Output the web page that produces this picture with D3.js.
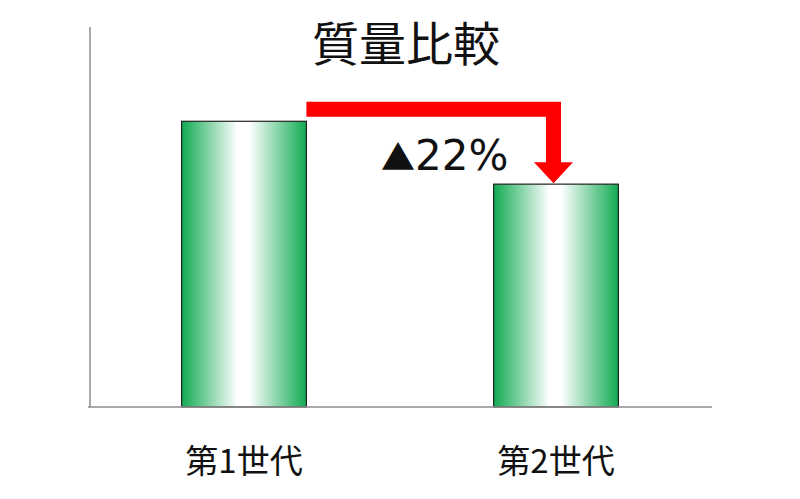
<!DOCTYPE html>
<html>
<head>
<meta charset="utf-8">
<script src="https://cdn.jsdelivr.net/npm/d3@7"></script>
<style>
  body { margin: 0; background: #fff; }
  text { font-family: "Noto Sans CJK JP", "DejaVu Sans", sans-serif; }
</style>
</head>
<body>
<div id="chart"></div>
<script>
// chart data
const categories = ["第1世代", "第2世代"];
const massValues = [100, 78];
const yMax = 133;
const titleText = "質量比較";
const changeMark = "▲";
const changeText = "22%";

const width = 800;
const height = 499;
const margin = { top: 27, right: 88, bottom: 92, left: 88 };

const svg = d3.select("#chart")
  .append("svg")
  .attr("width", width)
  .attr("height", height);

// horizontal gradient: green edges, white middle
const grad = svg.append("defs")
  .append("linearGradient")
  .attr("id", "barGrad")
  .attr("x1", "0%").attr("x2", "100%")
  .attr("y1", "0%").attr("y2", "0%");
grad.append("stop").attr("offset", "0%").attr("stop-color", "#10aa52");
grad.append("stop").attr("offset", "45%").attr("stop-color", "#ffffff");
grad.append("stop").attr("offset", "54%").attr("stop-color", "#ffffff");
grad.append("stop").attr("offset", "100%").attr("stop-color", "#10aa52");

const x = d3.scaleBand()
  .domain(categories)
  .range([margin.left, width - margin.right])
  .paddingInner(0.6)
  .paddingOuter(0.3);

const y = d3.scaleLinear()
  .domain([0, yMax])
  .range([height - margin.bottom, margin.top]);

const baseY = y(0);

// axes lines
svg.append("line")
  .attr("x1", margin.left + 2).attr("x2", margin.left + 2)
  .attr("y1", y(yMax)).attr("y2", baseY)
  .attr("stroke", "#8c8c8c").attr("stroke-width", 1.5);

// bars
svg.selectAll("rect.bar")
  .data(massValues)
  .enter()
  .append("rect")
  .attr("class", "bar")
  .attr("x", (d, i) => x(categories[i]))
  .attr("y", d => y(d))
  .attr("width", x.bandwidth())
  .attr("height", d => baseY - y(d))
  .attr("fill", "url(#barGrad)")
  .attr("stroke", "#222")
  .attr("stroke-width", 1.2);

svg.append("line")
  .attr("x1", margin.left).attr("x2", width - margin.right)
  .attr("y1", baseY).attr("y2", baseY)
  .attr("stroke", "#8c8c8c").attr("stroke-width", 1.5);

// category labels
svg.selectAll("text.cat")
  .data(categories)
  .enter()
  .append("text")
  .attr("class", "cat")
  .attr("x", d => x(d) + x.bandwidth() / 2)
  .attr("y", 473)
  .attr("text-anchor", "middle")
  .attr("font-size", "33px")
  .attr("fill", "#111")
  .text(d => d);

// title
svg.append("text")
  .attr("x", 406)
  .attr("y", 61)
  .attr("text-anchor", "middle")
  .attr("font-size", "47px")
  .attr("fill", "#111")
  .text(titleText);

// red arrow from bar 1 to bar 2
const startX = x(categories[0]) + x.bandwidth();
const shaftX = x(categories[1]) + x.bandwidth() / 2 - 2.5;
const lineY = y(massValues[0]) - 12;
const tipY = y(massValues[1]) - 1;
const shaftW = 15;
const headW = 39;
const headH = 21;

svg.append("path")
  .attr("d", [
    `M${startX},${lineY - shaftW / 2}`,
    `L${shaftX + shaftW / 2},${lineY - shaftW / 2}`,
    `L${shaftX + shaftW / 2},${tipY - headH}`,
    `L${shaftX + headW / 2},${tipY - headH}`,
    `L${shaftX},${tipY}`,
    `L${shaftX - headW / 2},${tipY - headH}`,
    `L${shaftX - shaftW / 2},${tipY - headH}`,
    `L${shaftX - shaftW / 2},${lineY + shaftW / 2}`,
    `L${startX},${lineY + shaftW / 2}`,
    "Z"
  ].join(" "))
  .attr("fill", "#ff0000");

// change label: triangle mark + percentage
const change = svg.append("text")
  .attr("x", 381)
  .attr("y", 170)
  .attr("fill", "#111");
change.append("tspan")
  .attr("font-size", "34px")
  .text(changeMark);
change.append("tspan")
  .attr("font-size", "42px")
  .style("font-family", "'DejaVu Sans', sans-serif")
  .text(changeText);
</script>
</body>
</html>
